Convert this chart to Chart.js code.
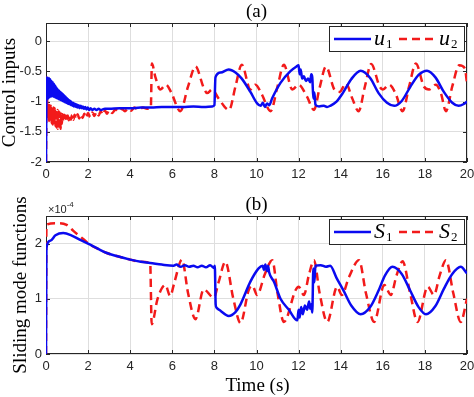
<!DOCTYPE html>
<html>
<head>
<meta charset="utf-8">
<script src="https://cdn.jsdelivr.net/npm/chart.js@4.4.1/dist/chart.umd.min.js"></script>
<style>
  html, body { margin: 0; padding: 0; background: #fff; }
  #wrap { position: relative; width: 474px; height: 397px; overflow: hidden; }
  canvas { position: absolute; left: 0; }
  #chartA { top: 0; }
  #chartB { top: 195px; }
</style>
</head>
<body>
<div id="wrap">
  <canvas id="chartA" width="474" height="195"></canvas>
  <canvas id="chartB" width="474" height="202"></canvas>
</div>
<script>
// time axis (s)
const timeTicks = [0, 2, 4, 6, 8, 10, 12, 14, 16, 18, 20];

// (a) control inputs
const u1Time = [0, 0.03, 0.06, 0.09, 0.12, 0.15, 0.18, 0.21, 0.24, 0.27, 0.3, 0.33, 0.36, 0.39, 0.42, 0.45, 0.48, 0.51, 0.54, 0.57,
  0.6, 0.63, 0.66, 0.69, 0.72, 0.75, 0.78, 0.81, 0.84, 0.87, 0.9, 0.93, 0.96, 0.99, 1.02, 1.05, 1.08, 1.11, 1.14, 1.17,
  1.2, 1.23, 1.26, 1.29, 1.32, 1.35, 1.38, 1.41, 1.44, 1.47, 1.5, 1.55, 1.6, 1.65, 1.7, 1.75, 1.8, 1.86, 1.92, 1.98,
  2.05, 2.12, 2.2, 2.3, 2.4, 2.5, 2.6, 2.8, 3, 3.5, 4, 4.5, 5, 5.5, 6, 6.5, 7, 7.5, 7.9, 8,
  8.05, 8.3, 8.68, 9, 9.3, 9.71, 10.03, 10.2, 10.3, 10.4, 10.5, 10.6, 10.75, 11.14, 11.6, 11.9, 12, 12.05, 12.1, 12.17, 12.25,
  12.35, 12.45, 12.55, 12.6, 12.65, 12.7, 12.75, 12.8, 12.97, 13.2, 13.35, 13.5, 13.8, 14.1, 14.5, 14.95, 15.4, 15.8, 16.2,
  16.54, 16.9, 17.3, 17.7, 18.1, 18.5, 18.9, 19.3, 19.6, 19.85, 20];
const u1Val = [-2, -0.6, -0.97, -0.6, -0.95, -0.61, -0.93, -0.63, -0.92, -0.66, -0.91, -0.68, -0.92, -0.71, -0.93, -0.74, -0.94, -0.77, -0.95, -0.8,
  -0.96, -0.82, -0.97, -0.84, -0.98, -0.86, -0.99, -0.88, -1.0, -0.9, -1.01, -0.92, -1.02, -0.94, -1.03, -0.96, -1.04, -0.98, -1.05, -0.99,
  -1.06, -1.01, -1.07, -1.02, -1.08, -1.03, -1.08, -1.04, -1.09, -1.05, -1.1, -1.06, -1.11, -1.07, -1.11, -1.08, -1.12, -1.09, -1.13, -1.1,
  -1.14, -1.11, -1.14, -1.12, -1.14, -1.12, -1.14, -1.12, -1.12, -1.11, -1.11, -1.1, -1.1, -1.09, -1.09, -1.09, -1.08, -1.09, -1.08, -1.06,
  -0.6, -0.52, -0.47, -0.52, -0.62, -0.84, -1.03, -1.07, -1.02, -1.09, -1.03, -1.06, -0.94, -0.69, -0.5, -0.42, -0.4, -0.55, -0.47, -0.62, -0.58,
  -0.66, -0.62, -0.68, -0.55, -0.6, -0.95, -0.85, -1.05, -1.08, -1.07, -1.09, -1.07, -1.0, -0.86, -0.63, -0.49, -0.61, -0.86, -1.02,
  -1.07, -0.99, -0.76, -0.56, -0.49, -0.6, -0.84, -1.02, -1.07, -1.04, -1.0];
const u2Time = [0, 0.03, 0.06, 0.09, 0.12, 0.15, 0.18, 0.21, 0.24, 0.27, 0.3, 0.33, 0.36, 0.39, 0.42, 0.45, 0.48, 0.51, 0.54, 0.57,
  0.6, 0.63, 0.66, 0.69, 0.72, 0.75, 0.78, 0.82, 0.86, 0.9, 0.94, 0.98, 1.03, 1.08, 1.13, 1.18, 1.24, 1.3, 1.36, 1.42,
  1.5, 1.58, 1.66, 1.74, 1.82, 1.9, 2, 2.1, 2.2, 2.3, 2.4, 2.5, 2.6, 2.7, 2.8, 2.9, 3, 3.15, 3.3, 3.45,
  3.6, 3.75, 3.9, 4.05, 4.2, 4.4, 4.6, 4.8, 4.98,
  5.03, 5.2, 5.43, 5.7, 5.95, 6.38, 6.75, 7.1, 7.5, 7.65, 7.9, 8.2, 8.7, 9, 9.3, 9.71, 9.95, 10.25, 10.67, 11, 11.3,
  11.7, 12, 12.4, 12.73, 13, 13.3, 13.7, 13.95, 14.25, 14.55, 14.85, 15.15, 15.45, 15.85, 16, 16.3, 16.6, 16.94, 17.25, 17.57,
  17.95, 18.2, 18.52, 18.76, 19, 19.3, 19.63, 19.9, 20];
const u2Val = [-2, -0.6, -1.05, -1.3, -1.04, -1.32, -1.06, -1.34, -1.07, -1.36, -1.08, -1.38, -1.1, -1.39, -1.11, -1.41, -1.12, -1.43, -1.14, -1.45,
  -1.16, -1.47, -1.18, -1.45, -1.2, -1.37, -1.21, -1.34, -1.22, -1.33, -1.23, -1.32, -1.23, -1.31, -1.23, -1.3, -1.22, -1.3, -1.22, -1.29,
  -1.21, -1.28, -1.21, -1.27, -1.2, -1.27, -1.19, -1.26, -1.18, -1.24, -1.17, -1.23, -1.16, -1.22, -1.15, -1.2, -1.14, -1.19, -1.13, -1.17,
  -1.12, -1.16, -1.11, -1.15, -1.1, -1.14, -1.1, -1.12, -1.1,
  -0.37, -0.6, -0.8, -0.72, -0.85, -1.16, -0.75, -0.42, -0.78, -0.86, -0.8, -0.95, -1.14, -0.75, -0.39, -0.8, -0.72, -0.88, -1.16, -0.75, -0.39,
  -0.8, -0.72, -0.92, -1.14, -0.77, -0.42, -0.8, -0.84, -0.7, -0.95, -1.16, -0.75, -0.38, -0.75, -0.8, -0.72, -0.86, -1.16, -0.75, -0.37,
  -0.75, -0.8, -0.72, -0.86, -1.16, -0.75, -0.4, -0.45, -0.7];
const uTicks = [-2, -1.5, -1, -0.5, 0];
const uTickLabels = ['-2', '-1.5', '-1', '-0.5', '0'];

// (b) sliding mode functions, values in units of 1e-4
const s1Time = [0, 0.02, 0.2, 0.45, 0.82, 1.2, 1.6, 2.1, 2.5, 2.89, 3.4, 4, 4.5, 4.95, 5.5, 6.06, 6.2, 6.4, 6.6, 6.8, 7, 7.2, 7.4, 7.6, 7.8, 7.97,
  8.02, 8.06, 8.1, 8.3, 8.68, 9, 9.24, 9.71, 10.1, 10.3, 10.35, 10.42, 10.5, 10.55, 10.6, 10.83, 11.14, 11.54, 11.94, 12, 12.05, 12.12,
  12.2, 12.3, 12.4, 12.5, 12.55, 12.6, 12.65, 12.7, 12.75, 12.8, 13.05, 13.3, 13.5, 13.8, 14.16, 14.5, 14.95, 15.4, 15.8, 16.1, 16.46,
  16.9, 17.3, 17.7, 18.05, 18.5, 18.9, 19.3, 19.7, 20];
const s1Val = [0, 1.92, 2.05, 2.15, 2.19, 2.15, 2.07, 1.98, 1.9, 1.83, 1.77, 1.71, 1.67, 1.65, 1.62, 1.6, 1.62, 1.58, 1.61, 1.58, 1.6, 1.57, 1.6, 1.57, 1.61, 1.56,
  1.6, 0.9, 0.84, 0.78, 0.69, 0.76, 0.9, 1.31, 1.55, 1.6, 1.52, 1.62, 1.5, 1.6, 1.48, 1.31, 1.0, 0.8, 0.61, 0.8, 0.66, 0.85,
  0.72, 0.88, 0.8, 0.95, 0.82, 0.9, 0.75, 1.55, 1.3, 1.6, 1.61, 1.58, 1.6, 1.38, 1.13, 0.88, 0.72, 0.85, 1.15, 1.42, 1.58,
  1.45, 1.15, 0.85, 0.72, 0.87, 1.18, 1.45, 1.58, 1.46];
const s2Time = [0, 0.02, 0.5, 0.98, 1.3, 1.62, 2.1, 2.5, 2.89, 3.4, 4, 4.5, 4.95, 5.02, 5.3, 5.67, 5.9, 6.1, 6.46, 6.75, 7.1, 7.49, 7.97,
  8.2, 8.52, 8.9, 9.24, 9.63, 9.8, 10.03, 10.4, 10.75, 11, 11.3, 11.86, 12, 12.25, 12.5, 12.73, 13, 13.36, 13.83, 14.05, 14.4, 14.87,
  15.2, 15.59, 16.07, 16.38, 16.65, 16.94, 17.3, 17.65, 18.13, 18.43, 18.7, 19, 19.35, 19.7, 20];
const s2Val = [0, 2.34, 2.37, 2.34, 2.23, 2.13, 1.98, 1.9, 1.83, 1.77, 1.71, 1.67, 1.65, 0.54, 1.0, 1.25, 1.05, 1.3, 1.71, 1.1, 0.63, 1.17, 1.02,
  1.3, 1.67, 1.0, 0.56, 1.16, 1.24, 1.07, 1.45, 1.7, 1.1, 0.58, 1.16, 1.22, 1.07, 1.45, 1.7, 1.1, 0.58, 1.22, 1.07, 1.4, 1.7,
  1.1, 0.58, 1.25, 1.07, 1.42, 1.68, 1.1, 0.58, 1.22, 1.07, 1.42, 1.7, 1.1, 0.58, 1.0];
const sTicks = [0, 1, 2];
const sTickLabels = ['0', '1', '2'];

const BLUE = '#0a0af0';
const RED = '#f21a1a';
const AXIS = '#262626';
const SERIF = '"Liberation Serif", "Times New Roman", serif';
const SANS = '"Liberation Sans", Arial, sans-serif';

const toPoints = (xs, ys) => xs.map((x, i) => ({ x: x, y: ys[i] }));

// box, inward ticks, titles, legend (MATLAB look)
const decor = {
  id: 'decor',
  beforeDatasetsDraw(chart, args, o) {
    const { ctx, chartArea: a, scales } = chart;
    ctx.save();
    ctx.strokeStyle = AXIS;
    ctx.lineWidth = 1;
    ctx.beginPath();
    scales.x.ticks.forEach(t => {
      const px = Math.round(scales.x.getPixelForValue(t.value)) + 0.5;
      ctx.moveTo(px, a.bottom); ctx.lineTo(px, a.bottom - 4);
      ctx.moveTo(px, a.top); ctx.lineTo(px, a.top + 4);
    });
    scales.y.ticks.forEach(t => {
      const py = Math.round(scales.y.getPixelForValue(t.value)) + 0.5;
      ctx.moveTo(a.left, py); ctx.lineTo(a.left + 4, py);
      ctx.moveTo(a.right, py); ctx.lineTo(a.right - 4, py);
    });
    ctx.stroke();
    ctx.strokeRect(a.left + 0.5, a.top + 0.5, a.right - a.left - 1, a.bottom - a.top - 1);
    ctx.restore();
  },
  afterDraw(chart, args, o) {
    const { ctx, chartArea: a } = chart;
    ctx.save();
    ctx.fillStyle = '#000';
    ctx.textAlign = 'center';
    ctx.textBaseline = 'middle';
    ctx.font = '19px ' + SERIF;
    ctx.fillText(o.title, (a.left + a.right) / 2, o.titleY);

    ctx.save();
    ctx.translate(o.ylabelX, (a.top + a.bottom) / 2);
    ctx.rotate(-Math.PI / 2);
    ctx.font = '19px ' + SERIF;
    ctx.fillText(o.ylabel, 0, 0);
    ctx.restore();

    if (o.xlabel) {
      ctx.font = '19px ' + SERIF;
      ctx.fillText(o.xlabel, (a.left + a.right) / 2 + 1, o.xlabelY);
    }

    if (o.exponent) {
      ctx.textAlign = 'left';
      ctx.textBaseline = 'alphabetic';
      ctx.fillStyle = AXIS;
      ctx.font = '11px ' + SANS;
      ctx.fillText('\u00d710', a.left + 2, a.top - 3);
      const w = ctx.measureText('\u00d710').width;
      ctx.font = '8px ' + SANS;
      ctx.fillText(o.exponent, a.left + 2 + w, a.top - 9);
    }

    // legend
    const W = 136, H = 26;
    const L = a.right - 2 - W, T = a.top + 3;
    ctx.fillStyle = '#fff';
    ctx.fillRect(L, T, W, H);
    ctx.strokeStyle = AXIS;
    ctx.lineWidth = 1;
    ctx.strokeRect(L + 0.5, T + 0.5, W - 1, H - 1);
    const cy = T + H / 2;
    o.legend.forEach((item, i) => {
      const ds = chart.data.datasets[i];
      const x0 = L + (i ? 70 : 5), x1 = x0 + 37;
      ctx.strokeStyle = ds.borderColor;
      ctx.lineWidth = ds.borderWidth;
      ctx.setLineDash(ds.borderDash || []);
      ctx.beginPath();
      ctx.moveTo(x0, cy); ctx.lineTo(x1, cy);
      ctx.stroke();
      ctx.setLineDash([]);
      ctx.fillStyle = '#000';
      ctx.textAlign = 'left';
      ctx.textBaseline = 'alphabetic';
      ctx.font = 'italic 22px ' + SERIF;
      ctx.fillText(item.sym, x1 + 3, cy + 6);
      const w = ctx.measureText(item.sym).width;
      ctx.font = '13px ' + SERIF;
      ctx.fillText(item.sub, x1 + 4 + w, cy + 9);
    });
    ctx.restore();
  }
};

function makeChart(id, cfg) {
  return new Chart(document.getElementById(id), {
    type: 'line',
    data: {
      datasets: [
        { data: toPoints(cfg.t1, cfg.v1), borderColor: BLUE, borderWidth: 2.5, pointRadius: 0,
          cubicInterpolationMode: 'monotone' },
        { data: toPoints(cfg.t2, cfg.v2), borderColor: RED, borderWidth: 2.5, borderDash: [8, 5], pointRadius: 0,
          cubicInterpolationMode: 'monotone' }
      ]
    },
    options: {
      responsive: false,
      animation: false,
      devicePixelRatio: 1,
      layout: { padding: { top: cfg.padTop, right: 7, left: 0, bottom: 0 } },
      plugins: { legend: { display: false }, tooltip: { enabled: false }, decor: cfg.decor },
      scales: {
        x: {
          type: 'linear', min: 0, max: 20,
          afterBuildTicks: s => { s.ticks = timeTicks.map(v => ({ value: v })); },
          afterFit: s => { s.height = cfg.xHeight; s.paddingLeft = 0; s.paddingRight = 0; },
          grid: { color: '#dedede', drawTicks: false },
          border: { display: false },
          ticks: { color: AXIS, font: { family: SANS, size: 13 }, padding: 5, maxRotation: 0 }
        },
        y: {
          min: cfg.yMin, max: cfg.yMax,
          afterBuildTicks: s => { s.ticks = cfg.yTicks.map(v => ({ value: v })); },
          afterFit: s => { s.width = 46; },
          grid: { color: '#dedede', drawTicks: false },
          border: { display: false },
          ticks: { color: AXIS, font: { family: SANS, size: 13 }, padding: 4,
            callback: (v, i) => cfg.yLabels[i] }
        }
      }
    },
    plugins: [decor]
  });
}

makeChart('chartA', {
  t1: u1Time, v1: u1Val, t2: u2Time, v2: u2Val,
  yMin: -2, yMax: 0.3, yTicks: uTicks, yLabels: uTickLabels,
  padTop: 23, xHeight: 33,
  decor: { title: '(a)', titleY: 12, ylabel: 'Control inputs', ylabelX: 10,
    legend: [{ sym: 'u', sub: '1' }, { sym: 'u', sub: '2' }] }
});

makeChart('chartB', {
  t1: s1Time, v1: s1Val, t2: s2Time, v2: s2Val,
  yMin: 0, yMax: 2.5, yTicks: sTicks, yLabels: sTickLabels,
  padTop: 21, xHeight: 43,
  decor: { title: '(b)', titleY: 10, ylabel: 'Sliding mode functions', ylabelX: 21,
    xlabel: 'Time (s)', xlabelY: 191, exponent: '-4',
    legend: [{ sym: 'S', sub: '1' }, { sym: 'S', sub: '2' }] }
});
</script>
</body>
</html>
